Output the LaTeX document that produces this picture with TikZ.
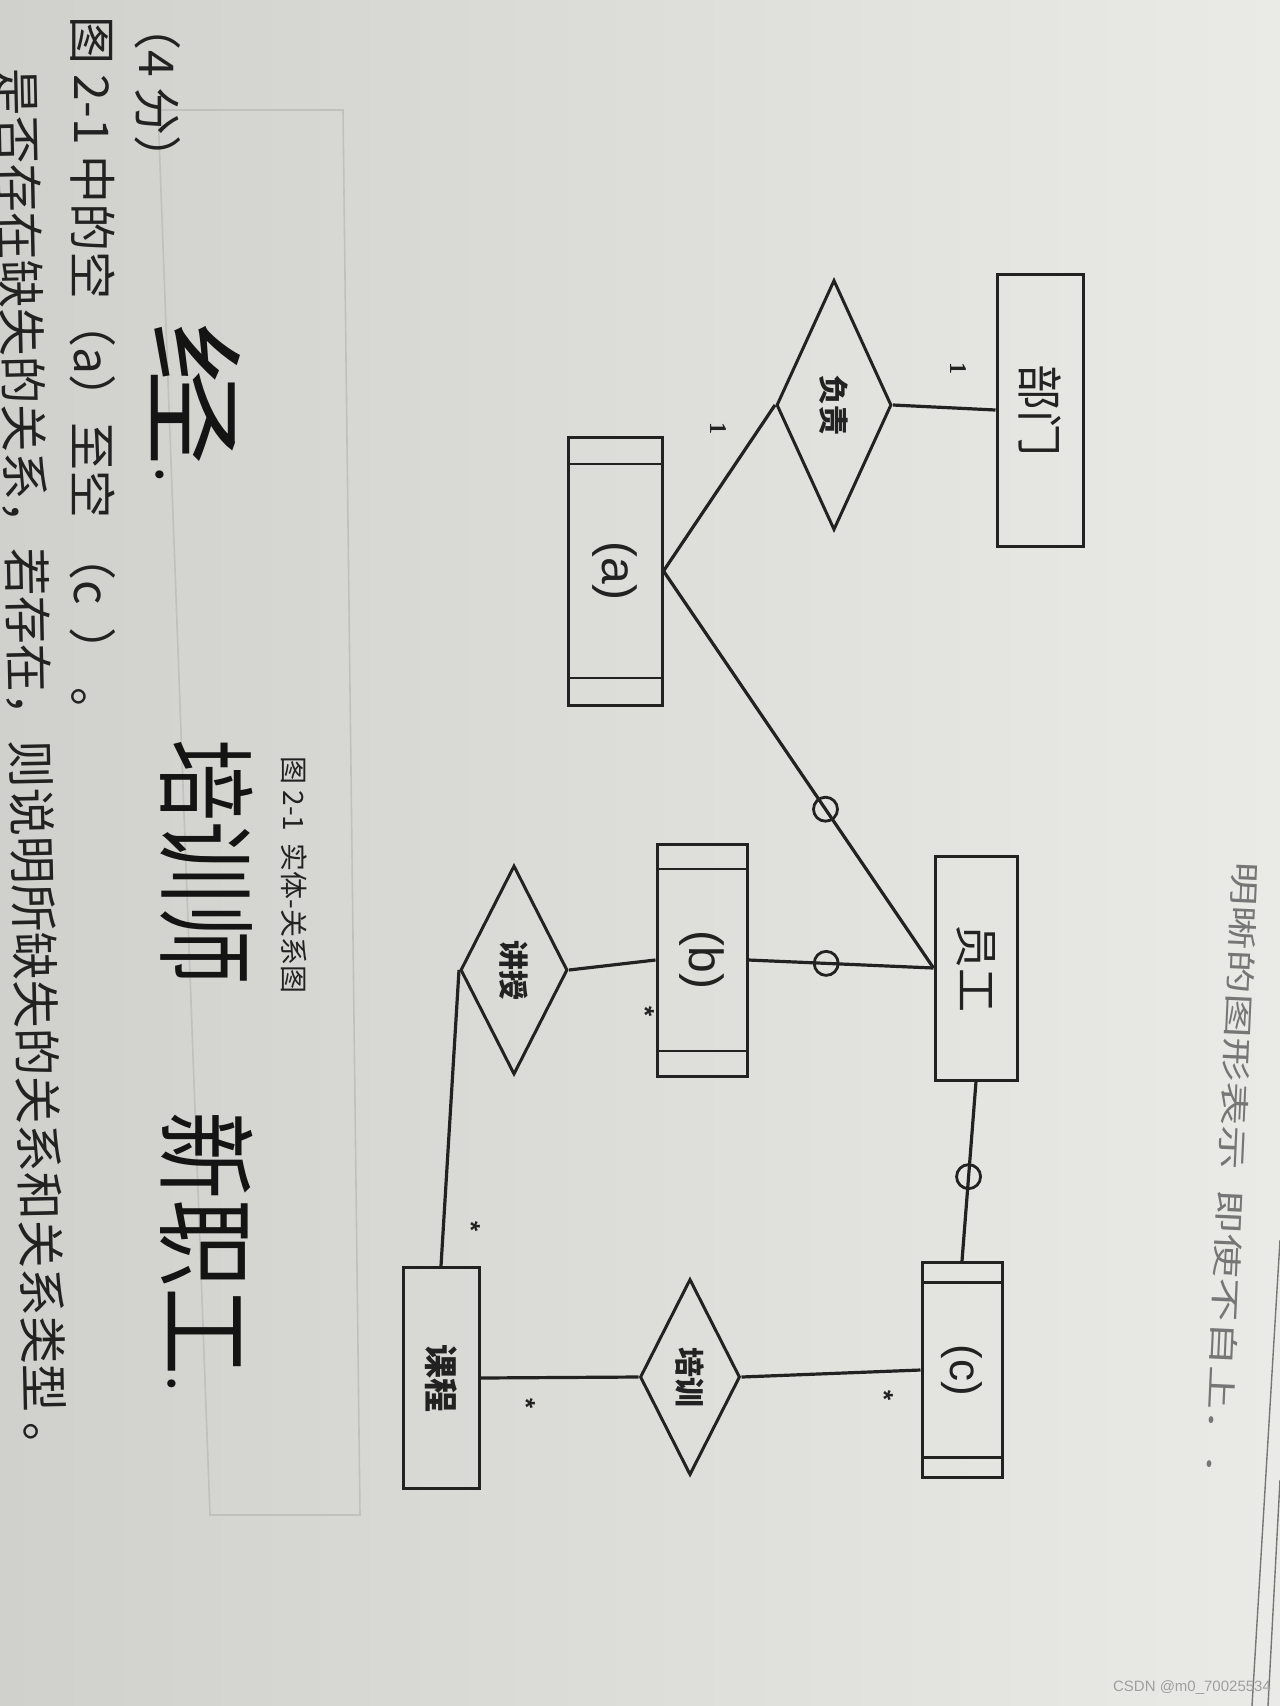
\documentclass[tikz,border=0pt]{standalone}
\usepackage{fontspec}
\usepackage{graphicx}
\usetikzlibrary{shapes.geometric}
\newfontfamily\cjk{Noto Sans CJK SC}
\newfontfamily\arialf{Liberation Sans}
\newfontfamily\seriff{Liberation Serif}
\newcommand{\myfs}[1]{\fontsize{#1}{#1}\selectfont}
\definecolor{paperL}{RGB}{208,208,204}
\definecolor{paperR}{RGB}{234,234,231}
\definecolor{ink}{RGB}{34,34,34}
\definecolor{hand}{RGB}{20,20,20}
\definecolor{faint}{RGB}{192,192,189}
\definecolor{ghost}{RGB}{118,118,118}
\begin{document}
\begin{tikzpicture}[x=1pt,y=-1pt,
  ln/.style={draw=ink,line width=3.2pt},
  ent/.style={draw=ink,line width=3pt,rectangle,inner sep=0pt,text=ink},
  went/.style={ent,path picture={
     \draw[ink,line width=2.8pt] ([yshift=-#1]path picture bounding box.north west) -- ([yshift=-#1]path picture bounding box.north east);
     \draw[ink,line width=2.8pt] ([yshift=#1]path picture bounding box.south west) -- ([yshift=#1]path picture bounding box.south east);}},
  rel/.style={draw=ink,line width=3pt,diamond,inner sep=0pt,text=ink},
  opt/.style={circle,draw=ink,line width=2.8pt,minimum size=24pt,inner sep=0pt},
  card/.style={text=ink,font=\seriff\bfseries\myfs{24},rotate=-90,inner sep=0pt},
  many/.style={text=ink,font=\arialf\bfseries\myfs{26},rotate=-90,inner sep=0pt},
  printed/.style={text=ink,font=\cjk\myfs{48},rotate=-90,inner sep=0pt,anchor=west},
  handw/.style={text=hand,font=\cjk\myfs{100},rotate=-90,inner sep=0pt},
  frame/.style={draw=faint,line width=1.6pt},
]
\useasboundingbox (0,0) rectangle (1280,1706);
\shade[left color=paperL,right color=paperR] (0,0) rectangle (1280,1706);

% faint answer frame
\draw[frame] (158,110) -- (343,110) -- (360,1515) -- (210,1515) -- cycle;

% printed question text (rotated page)
\node[printed] (q1) at (158,2) {（4 分）};
\node[printed] (q2) at (93,16) {图 2-1 中的空（a）至空\hspace{14pt}（c\hspace{22pt}）\hspace{12pt}。};
\node[printed,rotate=1.2] (q3) at (16,68) {是否存在缺失的关系，若存在，则说明所缺失的关系和关系类型 。};

% caption
\node[text=ink,font=\cjk\myfs{28},rotate=-90,inner sep=0pt,anchor=west] (cap) at (294,756) {图 2-1\ \ 实体-关系图};

% handwritten answers
\node[handw] (ha) at (196,402) {\scalebox{1.45}[1]{经}\myfs{60}.};
\node[handw] (hb) at (207,862) {\scalebox{0.82}[1]{培训师}};
\node[handw] (hc) at (207,1252) {\scalebox{0.88}[1]{新职工}\myfs{60}.};

% entities and relationships
\node[ent,minimum width=86pt,minimum height=272pt] (bm) at (1040,410) {\rotatebox{-90}{\cjk\myfs{46}部门}};
\node[rel,minimum width=115pt,minimum height=250pt] (fz) at (834,405) {\rotatebox{-90}{\cjk\bfseries\myfs{30}负责}};
\node[went=27pt,minimum width=94pt,minimum height=268pt] (a) at (615,571) {\rotatebox{-90}{\arialf\myfs{48}(a)}};
\node[ent,minimum width=82pt,minimum height=224pt] (yg) at (976,968) {\rotatebox{-90}{\cjk\myfs{44}员工}};
\node[went=25pt,minimum width=90pt,minimum height=232pt] (b) at (702,960) {\rotatebox{-90}{\arialf\myfs{48}(b)}};
\node[rel,minimum width=107pt,minimum height=209pt] (js) at (514,970) {\rotatebox{-90}{\cjk\bfseries\myfs{30}讲授}};
\node[ent,minimum width=76pt,minimum height=221pt] (kc) at (441,1378) {\rotatebox{-90}{\cjk\bfseries\myfs{34}课程}};
\node[rel,minimum width=100pt,minimum height=196pt] (px) at (690,1377) {\rotatebox{-90}{\cjk\bfseries\myfs{30}培训}};
\node[went=20pt,minimum width=80pt,minimum height=215pt] (c) at (962,1370) {\rotatebox{-90}{\arialf\myfs{44}(c)}};

% connectors
\draw[ln] (fz.east) -- (bm.west);
\draw[ln] (fz.west) -- (a.east);
\draw[ln] (a.east) -- node[opt,pos=0.6]{} (yg.west);
\draw[ln] (b.east) -- node[opt,pos=0.42]{} (yg.west);
\draw[ln] (js.east) -- (b.west);
\draw[ln] (js.west) -- (kc.north);
\draw[ln] (kc.east) -- (px.west);
\draw[ln] (px.east) -- (c.west);
\draw[ln] (yg.south) -- node[opt,pos=0.53]{} (c.north);

% cardinalities
\node[card] (c1) at (958,368) {1};
\node[card] (c2) at (718,428) {1};
\node[many] (m1) at (645,1012) {*};
\node[many] (m2) at (471,1227) {*};
\node[many] (m3) at (526,1404) {*};
\node[many] (m4) at (884,1396) {*};

% faint text on right page edge
\node[text=ghost,font=\cjk\myfs{44},rotate=-92.6,inner sep=0pt,anchor=west] (rt) at (1246,862) {\scalebox{1}[0.68]{明晰的图形表示\hspace{20pt}即使不自上．．}};
\draw[draw=ghost,line width=1.4pt] (1280,1240) -- (1252,1706);
\draw[draw=ghost,line width=1.4pt] (1280,1480) -- (1268,1706);

% watermark
\node[text=gray!75,font=\arialf\myfs{15},inner sep=0pt] (wm) at (1192,1688) {CSDN @m0\_70025534};
\end{tikzpicture}
\end{document}
